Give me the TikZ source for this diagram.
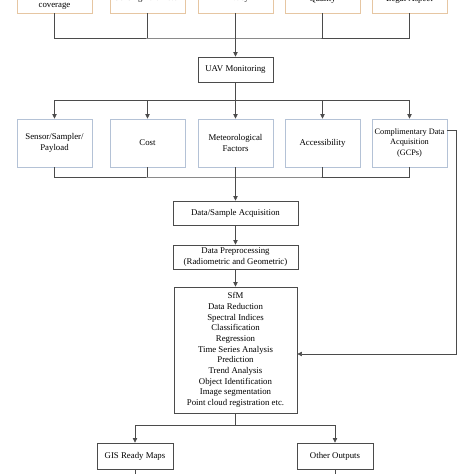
\documentclass[tikz,border=0pt]{standalone}
\usepackage{fontspec}
\setmainfont{Liberation Serif}
\usepackage{xcolor}
\definecolor{toporange}{RGB}{230, 198, 162}
\definecolor{factorblue}{RGB}{180, 194, 214}
\definecolor{flowgray}{RGB}{75, 75, 75}
\usepackage{tikz}
\usetikzlibrary{arrows.meta, positioning, calc}
\tikzstyle{base} = [rectangle, draw, line width=0.9pt, align=center, inner sep=2pt, font=\fontsize{8.8}{10.7}\selectfont]
\tikzstyle{topbox} = [base, draw=toporange, minimum width=75pt, minimum height=28pt]
\tikzstyle{factor} = [base, draw=factorblue, minimum width=75pt, minimum height=48pt]
\tikzstyle{flow} = [base, draw=flowgray, minimum height=24pt]
\tikzstyle{link} = [line width=0.7pt, draw=flowgray]
\tikzstyle{arrow} = [link, -{Triangle[length=4.5pt,width=4.5pt]}]

\begin{document}
\begin{tikzpicture}[x=1pt, y=-1pt]
    \useasboundingbox (0,0) rectangle (474,474);

    % top row (cut by the page)
    \node[topbox] (cov) at (54.5,-1) {\strut\\coverage};
    \node[topbox] (sens) at (147.5,-1) {Sensing Parameter};
    \node[topbox] (priv) at (235.5,-1) {Privacy};
    \node[topbox] (qual) at (322.5,-1) {Quality};
    \node[topbox] (legal) at (409.5,-1) {Legal Aspect};

    \node[flow, minimum width=75pt, minimum height=25pt] (uav) at (235.5,69.5) {UAV Monitoring};

    % factors
    \node[factor] (sensor) at (54.5,143) {Sensor/Sampler/\\Payload};
    \node[factor] (cost) at (147.5,143) {Cost};
    \node[factor] (meteo) at (235.5,143) {Meteorological\\Factors};
    \node[factor] (access) at (322.5,143) {Accessibility};
    \node[factor, inner sep=1pt, font=\fontsize{8.3}{10.5}\selectfont] (gcp) at (409.5,143) {Complimentary Data\\Acquisition\\(GCPs)};

    % processing chain
    \node[flow, minimum width=125pt] (acq) at (235.5,213) {Data/Sample Acquisition};
    \node[flow, minimum width=125pt] (prep) at (235.5,257) {Data Preprocessing\\(Radiometric and Geometric)};
    \node[flow, minimum width=123pt, minimum height=126pt] (proc) at (235.5,350) {SfM\\Data Reduction\\Spectral Indices\\Classification\\Regression\\Time Series Analysis\\Prediction\\Trend Analysis\\Object Identification\\Image segmentation\\Point cloud registration etc.};
    \node[flow, minimum width=76pt, minimum height=26pt] (gis) at (135,456) {GIS Ready Maps};
    \node[flow, minimum width=76pt, minimum height=26pt] (other) at (335,456) {Other Outputs};

    \coordinate (bus1) at (235.5,38);
    \coordinate (bus2) at (235.5,100);
    \coordinate (bus3) at (235.5,177);
    \coordinate (bus4) at (235.5,425);
    \coordinate (gisend) at (135,480);
    \coordinate (otherend) at (335,480);

    \draw[link] (cov.south) |- (bus1) -| (legal.south);
    \foreach \n in {sens,qual} \draw[link] (\n.south) -- (\n.south |- bus1);
    \draw[arrow] (priv) -- (uav);

    \draw[link] (uav) -- (bus2);
    \draw[link] (sensor.north |- bus2) -- (gcp.north |- bus2);
    \foreach \n in {sensor,cost,meteo,access,gcp} \draw[arrow] (\n.north |- bus2) -- (\n);

    \draw[link] (sensor.south) |- (bus3) -| (gcp.south);
    \foreach \n in {cost,access} \draw[link] (\n.south) -- (\n.south |- bus3);
    \draw[arrow] (meteo) -- (acq);
    \draw[arrow] (acq) -- (prep);
    \draw[arrow] (prep) -- (proc);
    \draw[arrow] ([yshift=13pt]gcp.east) -- ++(9,0) |- ([yshift=-4pt]proc.east);

    \draw[link] (proc) -- (bus4);
    \draw[link] (gis.north |- bus4) -- (other.north |- bus4);
    \foreach \n in {gis,other} \draw[arrow] (\n.north |- bus4) -- (\n);
    \draw[link] (gis) -- (gisend);
    \draw[link] (other) -- (otherend);
\end{tikzpicture}
\end{document}
